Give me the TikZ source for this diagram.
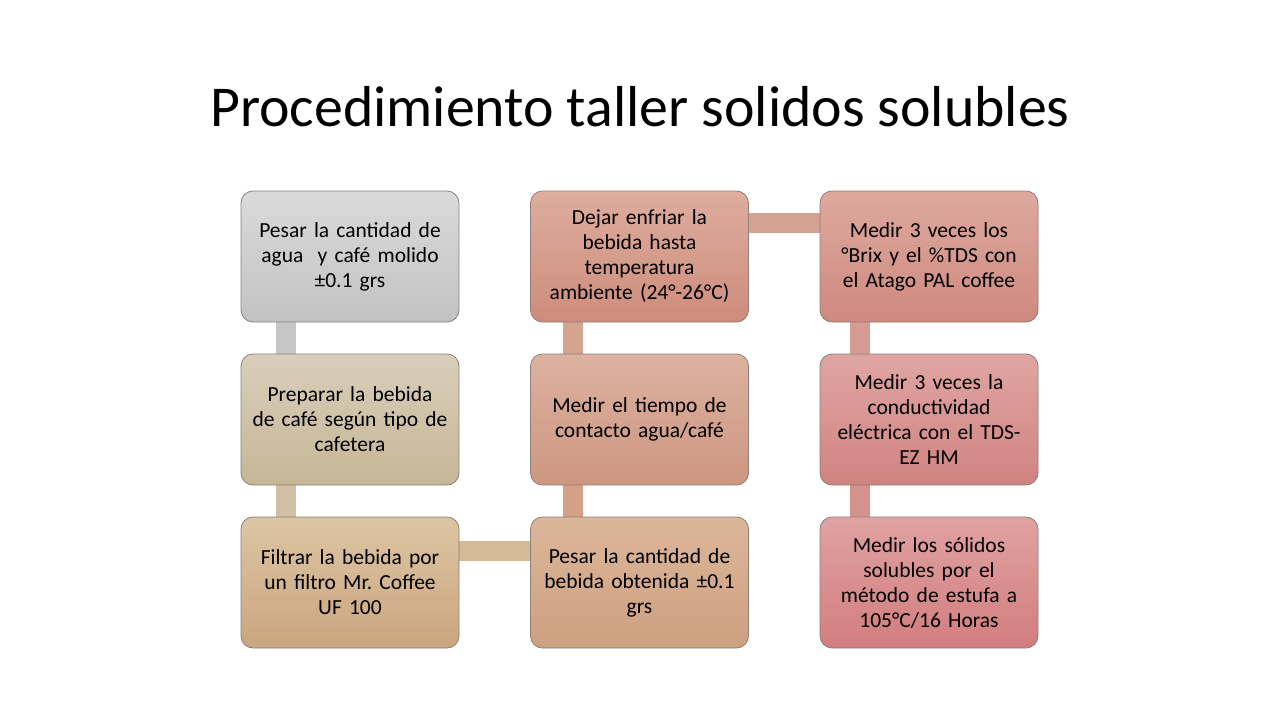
\documentclass[tikz,border=0pt]{standalone}
\usepackage{fontspec}
\setmainfont{Carlito}
\usetikzlibrary{backgrounds}
\frenchspacing
\definecolor{b1t}{HTML}{DADADA}\definecolor{b1b}{HTML}{C2C2C2}
\definecolor{b2t}{HTML}{D9CEBB}\definecolor{b2b}{HTML}{C5B696}
\definecolor{b3t}{HTML}{DDC5A4}\definecolor{b3b}{HTML}{CAA57E}
\definecolor{b4t}{HTML}{DCB69A}\definecolor{b4b}{HTML}{CCA07F}
\definecolor{b5t}{HTML}{DCB2A0}\definecolor{b5b}{HTML}{CD9680}
\definecolor{b6t}{HTML}{DDAD9E}\definecolor{b6b}{HTML}{CE8C7B}
\definecolor{b7t}{HTML}{DDA99F}\definecolor{b7b}{HTML}{CF897E}
\definecolor{b8t}{HTML}{DFA5A2}\definecolor{b8b}{HTML}{D08381}
\definecolor{b9t}{HTML}{E0A2A2}\definecolor{b9b}{HTML}{D27D7E}
\definecolor{c1}{HTML}{C6C6C6}
\definecolor{c2}{HTML}{D1C0A3}
\definecolor{c3}{HTML}{D5BA96}
\definecolor{c4}{HTML}{D3A48E}
\definecolor{c5}{HTML}{D4A292}
\definecolor{c6}{HTML}{D69C92}
\definecolor{c7}{HTML}{D4928C}
\definecolor{c8}{HTML}{D4A088}
\definecolor{bord}{HTML}{8C8079}
\begin{document}
\begin{tikzpicture}[x=1pt,y=-1pt,
  stepbox/.style={draw=bord,line width=0.8pt,rounded corners=12pt,
    minimum width=218pt,minimum height=131pt,inner sep=0pt,
    text width=210pt,align=center,
    font=\fontsize{21.5}{25}\selectfont\frenchspacing},
  conn/.style={line width=20pt}]
\useasboundingbox (0,0) rectangle (1280,720);
\node[font=\fontsize{57.8}{70}\selectfont] (title) at (640,107) {Procedimiento taller solidos solubles};
\node[stepbox,top color=b1t,bottom color=b1b] (n1) at (350,256.5) {Pesar la cantidad de\\agua\ \ y café molido\\±0.1 grs};
\node[stepbox,top color=b2t,bottom color=b2b] (n2) at (350,419.5) {Preparar la bebida\\de café según tipo de\\cafetera};
\node[stepbox,top color=b3t,bottom color=b3b] (n3) at (350,582.5) {Filtrar la bebida por\\un filtro Mr. Coffee\\UF 100};
\node[stepbox,top color=b4t,bottom color=b4b] (n4) at (639.5,582.5) {Pesar la cantidad de\\bebida obtenida ±0.1\\grs};
\node[stepbox,top color=b5t,bottom color=b5b] (n5) at (639.5,419.5) {Medir el tiempo de\\contacto agua/café};
\node[stepbox,top color=b6t,bottom color=b6b] (n6) at (639.5,256.5) {Dejar enfriar la\\bebida hasta\\temperatura\\ambiente (24°-26°C)};
\node[stepbox,top color=b7t,bottom color=b7b] (n7) at (929,256.5) {Medir 3 veces los\\°Brix y el \%TDS con\\el Atago PAL coffee};
\node[stepbox,top color=b8t,bottom color=b8b] (n8) at (929,419.5) {Medir 3 veces la\\conductividad\\eléctrica con el TDS-\\EZ HM};
\node[stepbox,top color=b9t,bottom color=b9b] (n9) at (929,582.5) {Medir los sólidos\\solubles por el\\método de estufa a\\105°C/16 Horas};
\begin{scope}[on background layer]
\fill[white] (0,0) rectangle (1280,720);
\draw[conn,c1] ([xshift=45pt]n1.south west) -- ([xshift=45pt]n2.north west);
\draw[conn,c2] ([xshift=45pt]n2.south west) -- ([xshift=45pt]n3.north west);
\draw[conn,c3] ([yshift=-34pt]n3.north east) -- ([yshift=-34pt]n4.north west);
\draw[conn,c8] ([xshift=43pt]n4.north west) -- ([xshift=43pt]n5.south west);
\draw[conn,c4] ([xshift=43pt]n5.north west) -- ([xshift=43pt]n6.south west);
\draw[conn,c5] ([yshift=-32.5pt]n6.north east) -- ([yshift=-32.5pt]n7.north west);
\draw[conn,c6] ([xshift=40pt]n7.south west) -- ([xshift=40pt]n8.north west);
\draw[conn,c7] ([xshift=40pt]n8.south west) -- ([xshift=40pt]n9.north west);
\end{scope}
\end{tikzpicture}
\end{document}
